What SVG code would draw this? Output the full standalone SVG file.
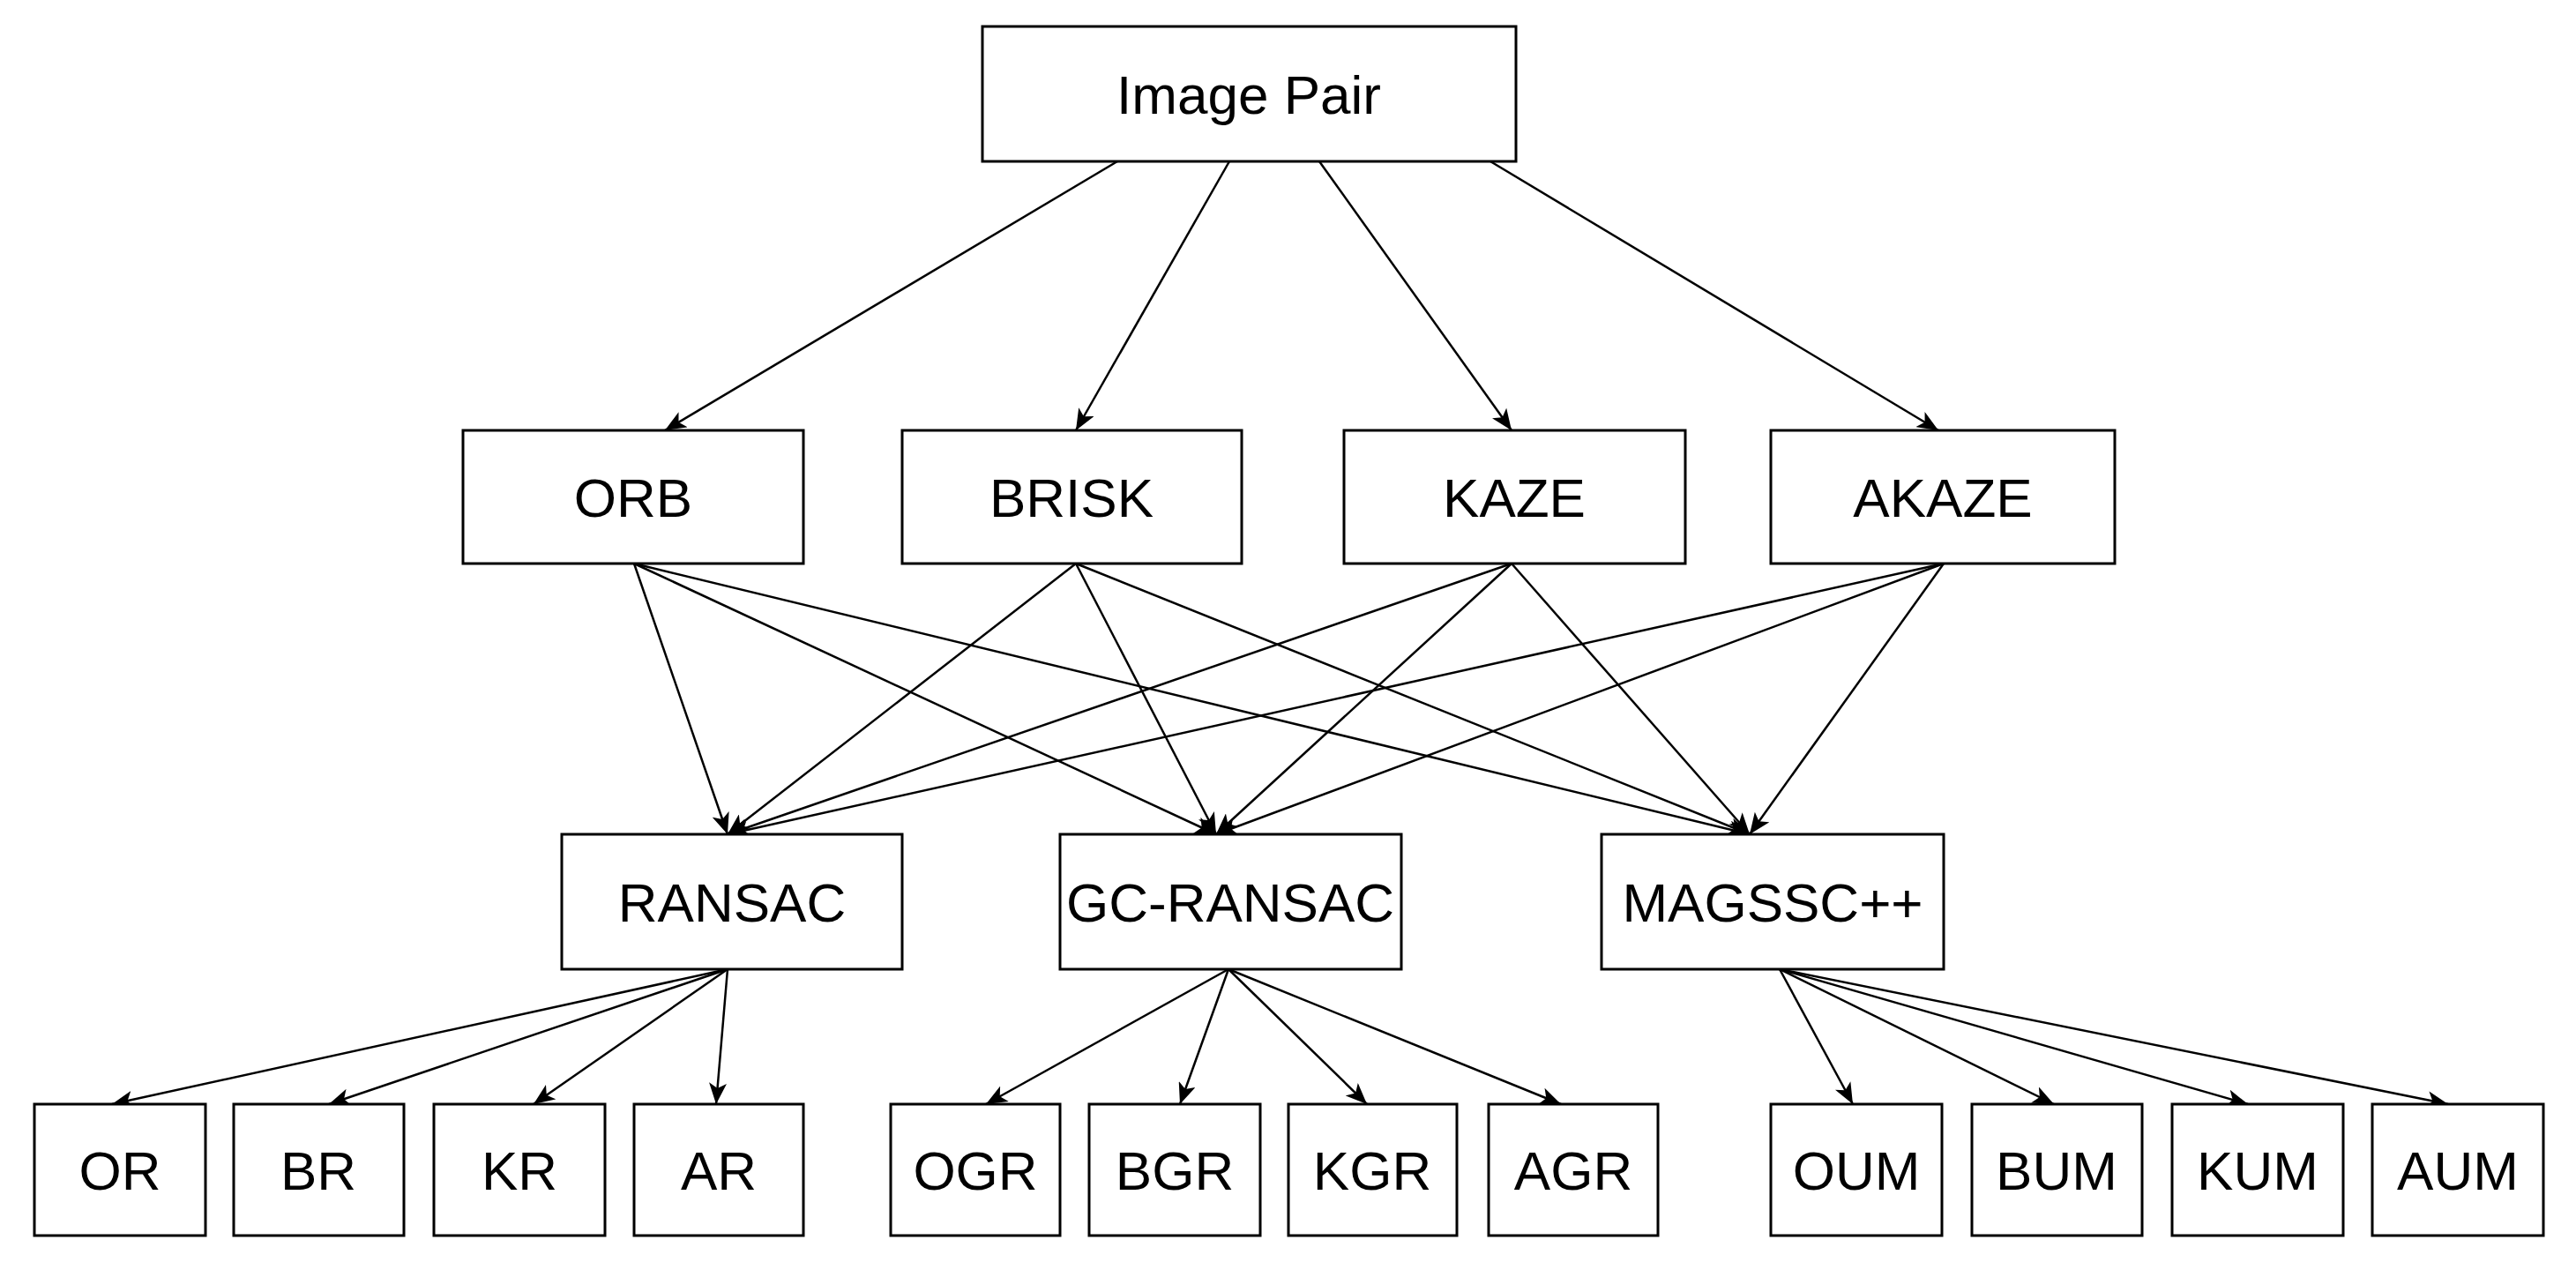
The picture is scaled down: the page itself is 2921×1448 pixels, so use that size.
<svg xmlns="http://www.w3.org/2000/svg" width="2921" height="1448" viewBox="0 0 2921 1448">
<style>
rect{fill:#fff;stroke:#000;stroke-width:3}
text{font-family:"Liberation Sans Narrow","Liberation Sans",Arial,sans-serif;font-size:62px;text-anchor:middle;dominant-baseline:central;fill:#000}
#edges line{stroke:#000;stroke-width:2.5;marker-end:url(#a)}
</style>
<defs><marker id="a" markerWidth="12" markerHeight="10" refX="12" refY="5" orient="auto" markerUnits="userSpaceOnUse" viewBox="0 0 12 10"><path d="M0,0 L12,5 L0,10 L3,5 z" fill="#000"/></marker>
<marker id="b" markerWidth="24" markerHeight="20" refX="24" refY="10" orient="auto" markerUnits="userSpaceOnUse" viewBox="0 0 24 20"><path d="M0,0 L24,10 L0,20 L6,10 z" fill="#000"/></marker></defs>
<rect width="2921" height="1448" fill="#fff" style="stroke:none"/>
<g id="edges" style="--m:0">
<g style="marker-end:url(#b)">
<line x1="1267" y1="183" x2="754" y2="488" style="marker-end:url(#b)"/>
<line x1="1394" y1="183" x2="1220" y2="488" style="marker-end:url(#b)"/>
<line x1="1496" y1="183" x2="1714" y2="488" style="marker-end:url(#b)"/>
<line x1="1690" y1="183" x2="2198" y2="488" style="marker-end:url(#b)"/>
<line x1="719" y1="639" x2="825" y2="946" style="marker-end:url(#b)"/>
<line x1="719" y1="639" x2="1379" y2="946" style="marker-end:url(#b)"/>
<line x1="719" y1="639" x2="1984" y2="946" style="marker-end:url(#b)"/>
<line x1="1220" y1="639" x2="825" y2="946" style="marker-end:url(#b)"/>
<line x1="1220" y1="639" x2="1379" y2="946" style="marker-end:url(#b)"/>
<line x1="1220" y1="639" x2="1984" y2="946" style="marker-end:url(#b)"/>
<line x1="1714" y1="639" x2="825" y2="946" style="marker-end:url(#b)"/>
<line x1="1714" y1="639" x2="1379" y2="946" style="marker-end:url(#b)"/>
<line x1="1714" y1="639" x2="1984" y2="946" style="marker-end:url(#b)"/>
<line x1="2204" y1="639" x2="825" y2="946" style="marker-end:url(#b)"/>
<line x1="2204" y1="639" x2="1379" y2="946" style="marker-end:url(#b)"/>
<line x1="2204" y1="639" x2="1984" y2="946" style="marker-end:url(#b)"/>
<line x1="825" y1="1099" x2="127" y2="1252" style="marker-end:url(#b)"/>
<line x1="825" y1="1099" x2="373" y2="1252" style="marker-end:url(#b)"/>
<line x1="825" y1="1099" x2="605" y2="1252" style="marker-end:url(#b)"/>
<line x1="825" y1="1099" x2="812" y2="1252" style="marker-end:url(#b)"/>
<line x1="1393" y1="1099" x2="1118" y2="1252" style="marker-end:url(#b)"/>
<line x1="1393" y1="1099" x2="1338" y2="1252" style="marker-end:url(#b)"/>
<line x1="1393" y1="1099" x2="1550" y2="1252" style="marker-end:url(#b)"/>
<line x1="1393" y1="1099" x2="1770" y2="1252" style="marker-end:url(#b)"/>
<line x1="2018" y1="1099" x2="2101" y2="1252" style="marker-end:url(#b)"/>
<line x1="2018" y1="1099" x2="2329" y2="1252" style="marker-end:url(#b)"/>
<line x1="2018" y1="1099" x2="2549" y2="1252" style="marker-end:url(#b)"/>
<line x1="2018" y1="1099" x2="2776" y2="1252" style="marker-end:url(#b)"/>
</g>
</g>
<g id="n-image"><rect x="1114" y="30" width="605" height="153"/><text x="1416" y="107">Image Pair</text></g>
<g id="n-orb"><rect x="525" y="488" width="386" height="151"/><text x="718" y="564">ORB</text></g>
<g id="n-brisk"><rect x="1023" y="488" width="385" height="151"/><text x="1215" y="564">BRISK</text></g>
<g id="n-kaze"><rect x="1524" y="488" width="387" height="151"/><text x="1717" y="564">KAZE</text></g>
<g id="n-akaze"><rect x="2008" y="488" width="390" height="151"/><text x="2203" y="564">AKAZE</text></g>
<g id="n-ransac"><rect x="637" y="946" width="386" height="153"/><text x="830" y="1023">RANSAC</text></g>
<g id="n-gc"><rect x="1202" y="946" width="387" height="153"/><text x="1395" y="1023">GC-RANSAC</text></g>
<g id="n-mag"><rect x="1816" y="946" width="388" height="153"/><text x="2010" y="1023">MAGSSC++</text></g>
<g id="n-or"><rect x="39" y="1252" width="194" height="149"/><text x="136" y="1327">OR</text></g>
<g id="n-br"><rect x="265" y="1252" width="193" height="149"/><text x="361" y="1327">BR</text></g>
<g id="n-kr"><rect x="492" y="1252" width="194" height="149"/><text x="589" y="1327">KR</text></g>
<g id="n-ar"><rect x="719" y="1252" width="192" height="149"/><text x="815" y="1327">AR</text></g>
<g id="n-ogr"><rect x="1010" y="1252" width="192" height="149"/><text x="1106" y="1327">OGR</text></g>
<g id="n-bgr"><rect x="1235" y="1252" width="194" height="149"/><text x="1332" y="1327">BGR</text></g>
<g id="n-kgr"><rect x="1461" y="1252" width="191" height="149"/><text x="1556" y="1327">KGR</text></g>
<g id="n-agr"><rect x="1688" y="1252" width="192" height="149"/><text x="1784" y="1327">AGR</text></g>
<g id="n-oum"><rect x="2008" y="1252" width="194" height="149"/><text x="2105" y="1327">OUM</text></g>
<g id="n-bum"><rect x="2236" y="1252" width="193" height="149"/><text x="2332" y="1327">BUM</text></g>
<g id="n-kum"><rect x="2463" y="1252" width="194" height="149"/><text x="2560" y="1327">KUM</text></g>
<g id="n-aum"><rect x="2690" y="1252" width="194" height="149"/><text x="2787" y="1327">AUM</text></g>
</svg>
